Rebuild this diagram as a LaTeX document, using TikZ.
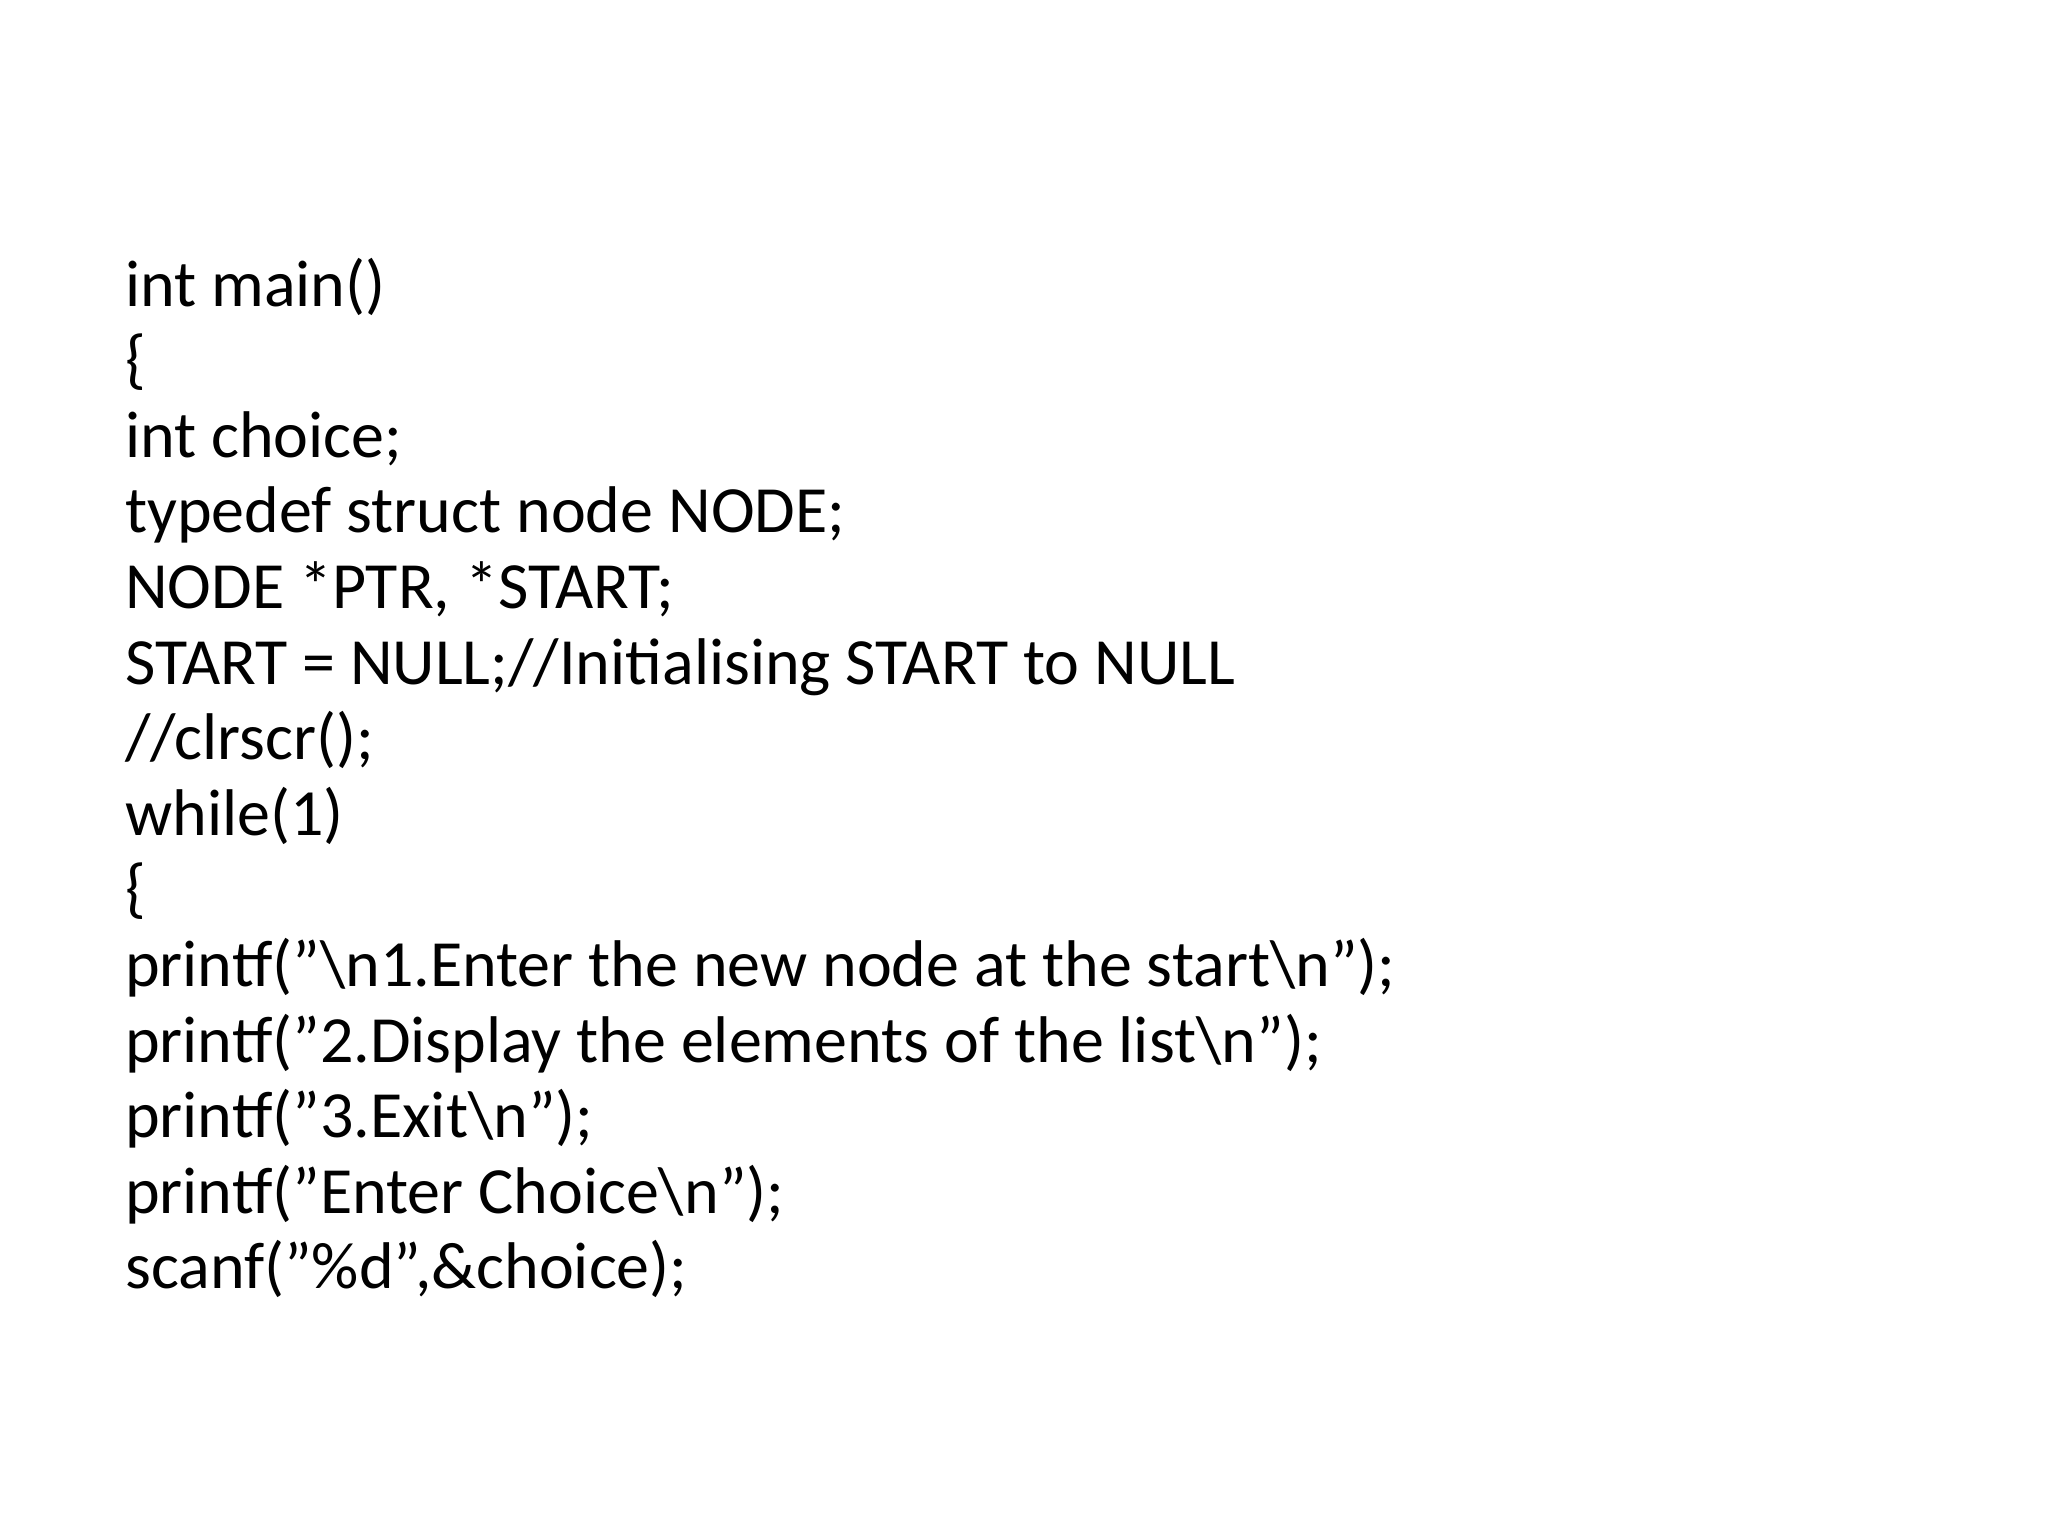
\documentclass[tikz,border=0pt]{standalone}
\usepackage{fontspec}
\setmainfont{Carlito}
\begin{document}
\begin{tikzpicture}[x=1pt,y=1pt,code/.style={anchor=base west,inner sep=0pt,font=\fontsize{66}{76}\selectfont}]
\useasboundingbox[fill=white] (0,0) rectangle (2048,-1536);
\def\bs{\textbackslash}
\foreach \i/\t in {0/{int main()},1/{\{},2/{int choice;},3/{typedef struct node NODE;},4/{NODE *PTR, *START;},5/{START = NULL;//Initialising START to NULL},6/{//clrscr();},7/{while(1)},8/{\{},9/{printf("\bs n1.Enter the new node at the start\bs n");},10/{printf("2.Display the elements of the list\bs n");},11/{printf("3.Exit\bs n");},12/{printf("Enter Choice\bs n");},13/{scanf("\%d",\&choice);}}
  \node[code] (l\i) at (125,{-306-75.6*\i}) {\t};
\end{tikzpicture}
\end{document}
